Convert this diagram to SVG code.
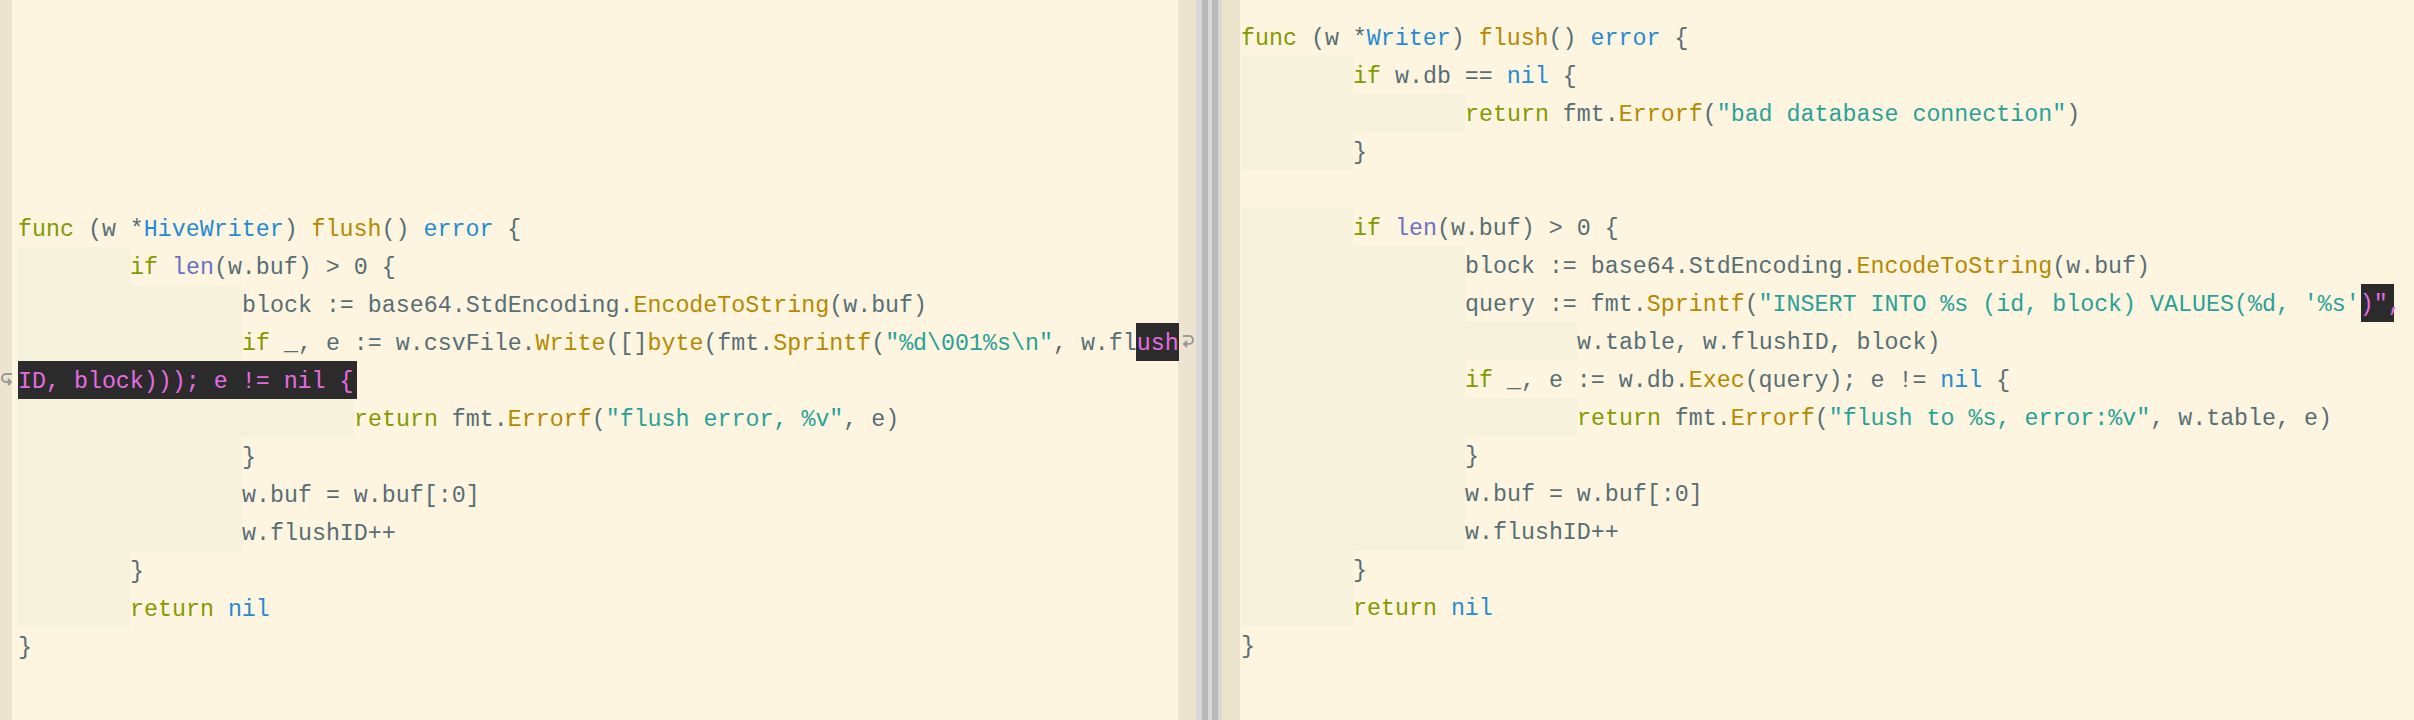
<svg xmlns="http://www.w3.org/2000/svg" width="2414" height="720" viewBox="0 0 2414 720">
<style>
text{font-family:"Liberation Mono",monospace;font-size:23.3px;fill:#586e75;white-space:pre}
.k{fill:#859900}.t{fill:#268bd2}.f{fill:#b58900}.s{fill:#2aa198}.v{fill:#6c71c4}.p{fill:#e56be0}
.b{fill:#f5f1da}
</style>
<rect width="2414" height="720" fill="#fdf5e0"/>
<rect x="0" y="0" width="12" height="720" fill="#ede4cf"/>
<rect x="1178" y="0" width="18" height="720" fill="#ede4cf"/>
<rect x="1196" y="0" width="26" height="720" fill="#d8d8d8"/>
<rect x="1202" y="0" width="6" height="720" fill="#b9b9b9"/>
<rect x="1212" y="0" width="6" height="720" fill="#b9b9b9"/>
<rect x="1222" y="0" width="18" height="720" fill="#ede4cf"/>
<g id="left">
<rect class="b" x="18" y="247" width="112" height="38"/>
<rect class="b" x="18" y="285" width="224" height="76"/>
<rect class="b" x="18" y="399" width="336" height="38"/>
<rect class="b" x="18" y="437" width="224" height="114"/>
<rect class="b" x="18" y="551" width="112" height="76"/>
<rect x="1136" y="323" width="43" height="38" fill="#2b2b2b"/>
<rect x="18" y="361" width="339" height="38" fill="#2b2b2b"/>
<path d="M1183 336 h6 a4 4 0 0 1 0 8 h-5 m3 -3 l-3 3 l3 3" fill="none" stroke="#999" stroke-width="2"/>
<path d="M12 374 h-6 a4 4 0 0 0 0 8 h5 m-3 -3 l3 3 l-3 3" fill="none" stroke="#999" stroke-width="2"/>
<text x="18" y="236"><tspan class="k">func</tspan> (w *<tspan class="t">HiveWriter</tspan>) <tspan class="f">flush</tspan>() <tspan class="t">error</tspan> {</text>
<text x="130" y="274"><tspan class="k">if</tspan> <tspan class="v">len</tspan>(w.buf) &gt; 0 {</text>
<text x="242" y="312">block := base64.StdEncoding.<tspan class="f">EncodeToString</tspan>(w.buf)</text>
<text x="242" y="350"><tspan class="k">if</tspan> _, e := w.csvFile.<tspan class="f">Write</tspan>([]<tspan class="f">byte</tspan>(fmt.<tspan class="f">Sprintf</tspan>(<tspan class="s">"%d\001%s\n"</tspan>, w.fl<tspan class="p">ush</tspan></text>
<text x="18" y="388" class="p">ID, block))); e != nil {</text>
<text x="354" y="426"><tspan class="k">return</tspan> fmt.<tspan class="f">Errorf</tspan>(<tspan class="s">"flush error, %v"</tspan>, e)</text>
<text x="242" y="464">}</text>
<text x="242" y="502">w.buf = w.buf[:0]</text>
<text x="242" y="540">w.flushID++</text>
<text x="130" y="578">}</text>
<text x="130" y="616"><tspan class="k">return</tspan> <tspan class="t">nil</tspan></text>
<text x="18" y="654">}</text>
</g>
<g id="right">
<rect class="b" x="1241" y="56" width="112" height="114"/>
<rect class="b" x="1353" y="94" width="112" height="38"/>
<rect class="b" x="1241" y="208" width="112" height="418"/>
<rect class="b" x="1353" y="246" width="112" height="266"/>
<rect class="b" x="1465" y="322" width="112" height="38"/>
<rect class="b" x="1465" y="398" width="112" height="38"/>
<rect class="b" x="1353" y="512" width="112" height="38"/>
<rect x="2361" y="284" width="33" height="38" fill="#2b2b2b"/>
<text x="1241" y="45"><tspan class="k">func</tspan> (w *<tspan class="t">Writer</tspan>) <tspan class="f">flush</tspan>() <tspan class="t">error</tspan> {</text>
<text x="1353" y="83"><tspan class="k">if</tspan> w.db == <tspan class="t">nil</tspan> {</text>
<text x="1465" y="121"><tspan class="k">return</tspan> fmt.<tspan class="f">Errorf</tspan>(<tspan class="s">"bad database connection"</tspan>)</text>
<text x="1353" y="159">}</text>
<text x="1353" y="235"><tspan class="k">if</tspan> <tspan class="v">len</tspan>(w.buf) &gt; 0 {</text>
<text x="1465" y="273">block := base64.StdEncoding.<tspan class="f">EncodeToString</tspan>(w.buf)</text>
<text x="1465" y="311">query := fmt.<tspan class="f">Sprintf</tspan>(<tspan class="s">"INSERT INTO %s (id, block) VALUES(%d, '%s'</tspan><tspan class="p">)",</tspan></text>
<text x="1577" y="349">w.table, w.flushID, block)</text>
<text x="1465" y="387"><tspan class="k">if</tspan> _, e := w.db.<tspan class="f">Exec</tspan>(query); e != <tspan class="t">nil</tspan> {</text>
<text x="1577" y="425"><tspan class="k">return</tspan> fmt.<tspan class="f">Errorf</tspan>(<tspan class="s">"flush to %s, error:%v"</tspan>, w.table, e)</text>
<text x="1465" y="463">}</text>
<text x="1465" y="501">w.buf = w.buf[:0]</text>
<text x="1465" y="539">w.flushID++</text>
<text x="1353" y="577">}</text>
<text x="1353" y="615"><tspan class="k">return</tspan> <tspan class="t">nil</tspan></text>
<text x="1241" y="653">}</text>
</g>
</svg>
